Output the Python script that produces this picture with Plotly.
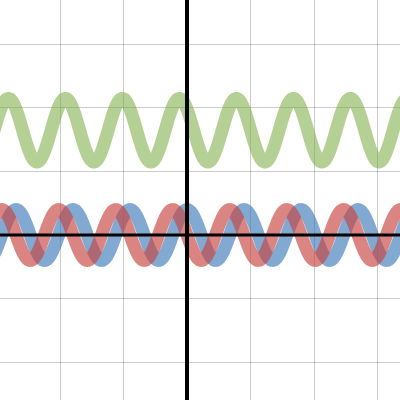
import numpy as np
import plotly.graph_objects as go

# curve parameters: name, offset, amplitude, frequency, phase, colour
names = ["blue", "red", "green"]
offsets = [0.0, 0.0, 1.65]
amplitudes = [0.4, 0.4, 0.5]
freqs = [7, 7, 7]
phases = [0.0, np.pi / 2, 0.84]
colors = ["rgba(45,112,179,0.6)", "rgba(199,68,64,0.65)", "rgba(120,170,60,0.55)"]

x = np.linspace(-3.1, 3.5, 1500)

fig = go.Figure()
for n, o, a, f, p, c in zip(names, offsets, amplitudes, freqs, phases, colors):
    fig.add_trace(go.Scatter(x=x, y=o + a * np.cos(f * x + p), mode="lines",
                             line=dict(color=c, width=13, shape="spline"), name=n,
                             hoverinfo="skip"))

fig.add_shape(type="line", x0=0, x1=0, y0=-5, y1=5, line=dict(color="black", width=4))
fig.add_shape(type="line", x0=-5, x1=5, y0=0, y1=0, line=dict(color="black", width=3))

ax = dict(showticklabels=False, showgrid=True, gridcolor="rgba(0,0,0,0.2)", gridwidth=1,
          zeroline=False, dtick=1, tick0=0, ticks="")
fig.update_xaxes(range=[-2.945, 3.354], **ax)
fig.update_yaxes(range=[-2.598, 3.70], **ax)
fig.update_layout(width=400, height=400, margin=dict(l=0, r=0, t=0, b=0),
                  plot_bgcolor="white", paper_bgcolor="white", showlegend=False)
fig.write_html("out.html", config={"displayModeBar": False},
               post_script="document.body.style.margin='0';")
